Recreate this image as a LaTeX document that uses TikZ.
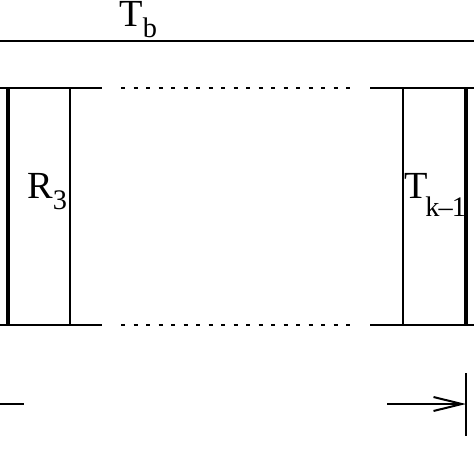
\documentclass[tikz,border=0pt]{standalone}
\usepackage{fontspec}
\setmainfont{Liberation Serif}
\usetikzlibrary{arrows.meta}
\newcommand{\lowsub}[2]{\raisebox{-#1}{\fontsize{17}{20}\selectfont #2}}

\begin{document}
\begin{tikzpicture}[x=0.6pt,y=-0.6pt,
  lbl/.style={font=\fontsize{23}{28}\selectfont,inner sep=0pt,anchor=base west},
  rule/.style={line width=1.2pt},
  gap/.style={line width=1.2pt,dash pattern=on 2.4pt off 5.1pt}]
  \useasboundingbox (0,0) rectangle (474,474);
  % time line with label
  \draw[rule] (0,41)--(474,41);
  \node[lbl] (tb) at (119,26) {T\lowsub{7pt}{b}};
  % left block
  \draw[rule] (0,88)--(102,88) (0,325)--(102,325);
  \draw[line width=2pt] (8,88)--(8,325);
  \draw[line width=1pt] (70,88)--(70,325);
  \node[lbl] (r3) at (27,198) {R\lowsub{7pt}{3}};
  % dotted gap
  \draw[gap] (121,88)--(352,88) (121,325)--(352,325);
  % right block
  \draw[rule] (370,88)--(474,88) (370,325)--(474,325);
  \draw[line width=1pt] (403,88)--(403,325);
  \draw[line width=2pt] (466,88)--(466,325);
  \node[lbl] (tk) at (404,198) {T\kern-1.5pt\lowsub{11pt}{k\kern-0.5pt\textendash\kern-0.5pt1}};
  % end marks
  \coordinate (stop) at (466,404);
  \draw[rule] (0,404)--(24,404);
  \draw[rule] (466,373)--(466,436);
  \draw[rule,-{Straight Barb[length=17pt,width=8.4pt]}] (387,404)--(stop);
\end{tikzpicture}
\end{document}
